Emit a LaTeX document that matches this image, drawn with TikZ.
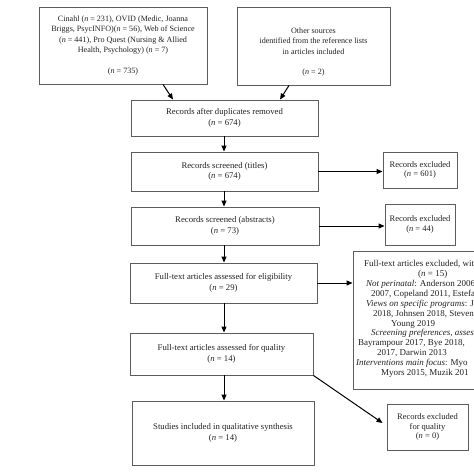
\documentclass[tikz,border=0pt]{standalone}
\usepackage{fontspec}
\setmainfont{Liberation Serif}
\usetikzlibrary{arrows.meta,calc}
\definecolor{boxgray}{HTML}{5C5C5C}
\definecolor{txt}{HTML}{222222}
\newcommand\mainfnt{\fontsize{8.7}{10.3}\selectfont}
\newcommand\topfnt{\fontsize{8.1}{10.3}\selectfont}
\newcommand\sidefnt{\fontsize{8.5}{9.3}\selectfont}
\newcommand\bigfnt{\fontsize{9}{9.85}\selectfont}
\begin{document}
\begin{tikzpicture}[x=1pt,y=-1pt,
  box/.style={draw=boxgray,line width=0.9pt,inner sep=0pt,align=center,font=\mainfnt,text=txt},
  plain/.style={inner sep=0pt,align=center,font=\topfnt,text=txt},
  arr/.style={-{Triangle[length=6pt,width=5pt]},line width=1pt,draw=black}]
\fill[white] (0,0) rectangle (474,474);
\useasboundingbox (0,0) rectangle (474,474);
\begin{scope}
\clip (0,0) rectangle (474,474);
% top boxes
\node[box,font=\topfnt,minimum width=168pt,minimum height=77pt] (b1) at (123,45.5)
 {Cinahl (\textit{n} = 231), OVID (Medic, Joanna\\Briggs, PsycINFO)(\textit{n} = 56), Web of Science\\(\textit{n} = 441), Pro Quest (Nursing \& Allied\\Health, Psychology) (\textit{n} = 7)\\[10.3pt](\textit{n} = 735)};
\node[box,minimum width=153pt,minimum height=78pt] (b2) at (313.5,46) {};
\node[plain] (t2) at (313.5,52) {Other sources\\identified from the reference lists\\in articles included\\[10pt](\textit{n} = 2)};
% main column
\node[box,minimum width=187pt,minimum height=36pt] (b3) at (224.5,118) {Records after duplicates removed\\(\textit{n} = 674)};
\node[box,minimum width=187pt,minimum height=39pt] (b4) at (224.5,171.5) {Records screened (titles)\\(\textit{n} = 674)};
\node[box,minimum width=188pt,minimum height=38pt] (b5) at (225,226) {Records screened (abstracts)\\(\textit{n} = 73)};
\node[box,minimum width=187pt,minimum height=40pt] (b6) at (223.5,283) {Full-text articles assessed for eligibility\\(\textit{n} = 29)};
\node[box,minimum width=183pt,minimum height=42pt] (b7) at (221.5,354) {Full-text articles assessed for quality\\(\textit{n} = 14)};
\node[box,minimum width=182pt,minimum height=64pt] (b8) at (223,433) {Studies included in qualitative synthesis\\(\textit{n} = 14)};
% side boxes
\node[box,minimum width=74pt,minimum height=36pt,font=\sidefnt] (e1) at (420,170) {Records excluded\\(\textit{n} = 601)};
\node[box,minimum width=70pt,minimum height=41pt,font=\sidefnt] (e2) at (420,224.5) {Records excluded\\(\textit{n} = 44)};
\node[box,minimum width=149pt,minimum height=138pt] (ex) at (427.5,320) {};
\node[inner sep=0pt,align=left,anchor=west,font=\bigfnt,text=txt] (ext) at (356,319)
 {\hspace*{8pt}Full-text articles excluded, with\\
  \hspace*{62pt}(\textit{n} = 15)\\
  \hspace*{10pt}\textit{Not perinatal}: Anderson 2006,\\
  \hspace*{15pt}2007, Copeland 2011, Estefa\\
  \hspace*{10pt}\textit{Views on specific programs}: J\\
  \hspace*{17pt}2018, Johnsen 2018, Stevens\\
  \hspace*{35pt}Young 2019\\
  \hspace*{15pt}\textit{Screening preferences, asses}\\
  \hspace*{2pt}Bayrampour 2017, Bye 2018,\\
  \hspace*{21pt}2017, Darwin 2013\\
  \textit{Interventions main focus}: Myo\\
  \hspace*{25pt}Myors 2015, Muzik 201};
\node[box,minimum width=81pt,minimum height=46pt,font=\sidefnt] (eq) at (427.5,427) {Records excluded\\for quality\\(\textit{n} = 0)};
\coordinate (ax) at (224,0);
% arrows
\draw[arr] ([xshift=40pt]b1.south) -- ([xshift=-51.5pt]b3.north);
\draw[arr] ([xshift=-24.5pt]b2.south) -- ([xshift=55.5pt]b3.north);
\draw[arr] (b3.south -| ax) -- (b4.north -| ax);
\draw[arr] (b4.south -| ax) -- (b5.north -| ax);
\draw[arr] (b5.south -| ax) -- (b6.north -| ax);
\draw[arr] (b6.south -| ax) -- (b7.north -| ax);
\draw[arr] (b7.south -| ax) -- (b8.north -| ax);
\draw[arr] (b4.east) -- (b4.east -| e1.west);
\draw[arr] (b5.east) -- (b5.east -| e2.west);
\draw[arr] (b6.east) -- (b6.east -| ex.west);
\draw[arr] (b7.south east) -- ([xshift=-4pt,yshift=4pt]eq.west);
\end{scope}
\end{tikzpicture}
\end{document}
